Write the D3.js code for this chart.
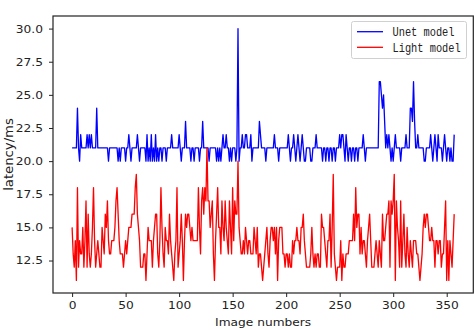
<!DOCTYPE html>
<html><head><meta charset="utf-8">
<script src="https://cdn.jsdelivr.net/npm/d3@7"></script>
<style>html,body{margin:0;padding:0;background:#fff;}svg{display:block;}</style>
</head><body>
<svg id="chart" width="474" height="330"></svg>
<script>
const seriesNames = ["Unet model", "Light model"];
const seriesColors = ["#0000ff", "#ff0000"];
const xTicks = [0, 50, 100, 150, 200, 250, 300, 350];
const yTicks = [12.5, 15.0, 17.5, 20.0, 22.5, 25.0, 27.5, 30.0];
const xLabel = "Image numbers";
const yLabel = "latency/ms";

const unet = [
21,21,21,21,21,24,21,20,22,21,21,21,21,21,22,21,22,21,22,21,
21,21,21,24,21,21,21,21,21,21,21,21,21,21,20,21,21,21,21,21,
21,21,21,20,21,20,21,21,21,21,20,21,21,22,21,20,21,21,21,21,
21,22,21,20,21,21,21,21,21,20,22,20,21,20,22,20,21,20,22,20,
21,20,21,21,20,21,21,21,20,21,21,21,21,22,21,21,21,21,21,21,
22,21,20,21,21,21,23,21,21,21,21,20,21,21,20,21,21,21,21,20,
21,21,23,21,21,21,21,21,20,21,21,21,21,21,21,20,21,20,21,20,
21,22,21,21,22,21,21,20,21,20,21,21,21,20,21,30,20,21,21,22,
21,21,22,22,21,21,21,22,20,21,21,21,21,21,21,23,22,21,21,21,
21,20,21,21,21,21,21,21,21,22,21,21,21,20,21,21,21,21,21,21,
21,21,22,21,20,21,21,22,21,20,21,22,21,20,21,22,21,20,20,21,
21,21,21,20,20,21,21,21,22,21,21,21,21,21,20,21,21,20,21,21,
20,21,21,20,21,21,20,21,21,21,22,21,22,22,21,20,22,21,20,21,
21,20,21,21,20,21,21,20,21,21,21,21,22,21,20,21,21,21,21,21,
21,21,21,21,21,21,21,26,26,25,24,25,23,21,22,21,22,21,20,21,
20,21,22,21,21,21,21,20,21,21,21,21,22,21,21,21,24,24,23,26,
23,21,21,22,21,21,21,21,21,20,20,21,21,21,21,22,21,20,21,22,
21,20,22,21,21,21,20,21,22,21,20,21,21,20,21,20,20,22
];
const light = [
15,13,12,14,11,18,12,14,13,13,15,12,14,17,12,16,13,12,13,15,
18,14,12,13,14,13,12,12,15,14,13,16,15,17,14,13,13,14,14,14,
15,17,18,16,14,13,13,13,12,13,14,13,14,15,15,15,16,16,16,18,
19,16,15,14,12,12,12,13,13,11,13,15,14,14,14,12,14,15,16,16,
13,12,14,18,15,13,12,15,14,14,13,16,14,13,12,11,13,14,18,12,
13,14,16,14,11,14,16,15,16,16,15,14,15,14,14,14,14,14,18,15,
13,17,18,16,18,17,21,17,17,15,16,17,13,11,14,16,18,15,15,13,
17,15,14,17,15,14,13,17,15,13,18,14,17,16,16,20,15,14,13,13,
14,13,15,14,13,14,14,13,13,13,15,14,13,15,12,13,13,12,11,12,
13,14,15,13,12,14,15,15,14,15,13,15,11,14,15,15,15,13,13,12,
13,13,12,13,12,12,14,13,14,14,15,14,14,13,15,15,16,14,13,12,
12,12,12,13,15,13,12,13,12,13,13,12,12,16,15,15,14,13,12,14,
14,16,12,15,19,13,12,11,12,12,12,14,11,13,12,12,13,13,13,14,
14,14,14,16,14,18,15,16,16,13,15,13,14,14,13,12,14,15,16,14,
12,12,12,13,14,13,12,14,13,12,16,14,14,15,16,16,17,12,17,16,
17,19,11,17,15,14,12,17,12,14,16,13,12,15,13,12,14,13,12,14,
14,14,13,13,12,11,12,13,15,16,15,16,16,15,14,14,15,14,14,12,
14,14,13,14,14,12,13,13,15,17,11,14,11,14,13,12,14,16
];
const series = [unet, light];

const svg = d3.select("#chart");
const plot = {left: 53, right: 473.3, top: 16, bottom: 293};
const STRETCH = 1.13;

const n = Math.max(unet.length, light.length);
const xPad = (n - 1) * 0.05;
const x = d3.scaleLinear().domain([-xPad, n - 1 + xPad]).range([plot.left, plot.right]);
const allV = unet.concat(light);
const [vMin, vMax] = d3.extent(allV);
const yPad = (vMax - vMin) * 0.05;
const y = d3.scaleLinear().domain([vMin - yPad, vMax + yPad]).range([plot.bottom, plot.top]);

function stretch(sel, f) {
  sel.each(function() {
    const len = this.getComputedTextLength();
    d3.select(this).attr("textLength", len * f).attr("lengthAdjust", "spacingAndGlyphs");
  });
}

const line = d3.line().x((d, i) => x(i)).y(d => y(d));
const g = svg.append("g");
series.forEach((s, k) => {
  g.append("path").datum(s)
    .attr("d", line)
    .attr("fill", "none")
    .attr("stroke", seriesColors[k])
    .attr("stroke-width", 1.3)
    .attr("stroke-linejoin", "round");
});

// axes
const xAxis = svg.append("g").attr("transform", `translate(0,${plot.bottom})`)
  .call(d3.axisBottom(x).tickValues(xTicks).tickFormat(d3.format("d")).tickSize(4).tickPadding(4).tickSizeOuter(0));
const yAxis = svg.append("g").attr("transform", `translate(${plot.left},0)`)
  .call(d3.axisLeft(y).tickValues(yTicks).tickFormat(d3.format(".1f")).tickSize(4).tickPadding(6).tickSizeOuter(0));
[xAxis, yAxis].forEach(a => {
  a.select(".domain").remove();
  a.selectAll(".tick line").attr("stroke", "#222").attr("stroke-width", 1);
  a.selectAll(".tick text").attr("font-family", "DejaVu Sans").attr("font-size", "10.8px").attr("fill", "#222");
  stretch(a.selectAll(".tick text"), STRETCH);
});

// frame
svg.append("rect")
  .attr("x", plot.left).attr("y", plot.top)
  .attr("width", plot.right - plot.left).attr("height", plot.bottom - plot.top)
  .attr("fill", "none").attr("stroke", "#222").attr("stroke-width", 1.2);

// axis labels
svg.append("text").attr("x", (plot.left + plot.right) / 2).attr("y", 326)
  .attr("text-anchor", "middle").attr("font-family", "DejaVu Sans").attr("font-size", "10.8px").attr("fill", "#222")
  .text(xLabel).call(stretch, STRETCH);
svg.append("text").attr("transform", `translate(12.5,${(plot.top + plot.bottom) / 2}) rotate(-90)`)
  .attr("text-anchor", "middle").attr("font-family", "DejaVu Sans").attr("font-size", "12px").attr("fill", "#222")
  .text(yLabel).call(stretch, 1.1);

// legend
const lg = svg.append("g");
lg.append("rect").attr("x", 351.5).attr("y", 21.5).attr("width", 115).attr("height", 37)
  .attr("rx", 2).attr("fill", "#fff").attr("fill-opacity", 0.85)
  .attr("stroke", "#d0d0d0").attr("stroke-width", 1);
seriesNames.forEach((name, k) => {
  const yy = 31.7 + k * 15.6;
  lg.append("line").attr("x1", 357).attr("x2", 383).attr("y1", yy).attr("y2", yy)
    .attr("stroke", seriesColors[k]).attr("stroke-width", 1.3);
  lg.append("text").attr("x", 392.5).attr("y", yy + 4.2)
    .attr("font-family", "Liberation Mono").attr("font-size", "12.5px").attr("fill", "#222")
    .text(name).attr("textLength", name.length * 6.2).attr("lengthAdjust", "spacingAndGlyphs");
});
</script>
</body></html>
